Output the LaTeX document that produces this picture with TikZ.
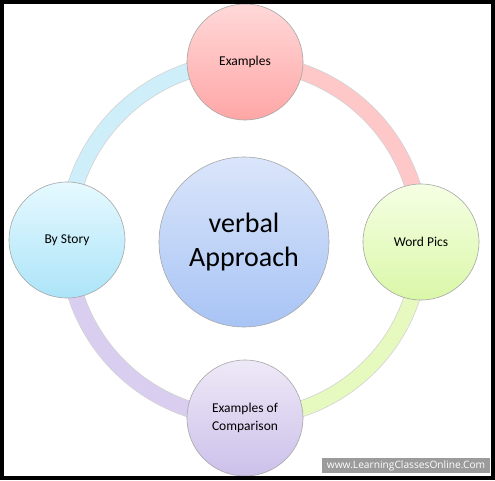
\documentclass[tikz,border=0pt]{standalone}
\usepackage{fontspec}
\setmainfont{Carlito}
\newfontfamily\wmfont{Open Sans}
\begin{document}
\begin{tikzpicture}[x=1pt,y=1pt,
  bubble/.style={circle, draw=gray!70, line width=0.6pt, minimum size=116pt, inner sep=0pt,
     align=center, font=\fontsize{13.5}{18}\selectfont, text=black},
  ringshadow/.style={draw=gray!35, line width=16.5pt},
  ringband/.style={line width=15pt},
  bordr/.style={draw=black, line width=4pt}]
\useasboundingbox (0,0) rectangle (495,480);
\fill[white] (0,0) rectangle (495,480);
% positions
\coordinate (ctop) at (245,418);
\coordinate (cright) at (421,238);
\coordinate (cbottom) at (245,62);
\coordinate (cleft) at (67,240);
% ring arcs
\foreach \a/\b in {ctop/cright, cright/cbottom, cbottom/cleft, cleft/ctop}
  \draw[ringshadow] (\a) to[bend left=45] (\b);
\draw[ringband, draw={rgb,255:red,255;green,200;blue,200}] (ctop) to[bend left=45] (cright);
\draw[ringband, draw={rgb,255:red,230;green,249;blue,190}] (cright) to[bend left=45] (cbottom);
\draw[ringband, draw={rgb,255:red,218;green,206;blue,240}] (cbottom) to[bend left=45] (cleft);
\draw[ringband, draw={rgb,255:red,206;green,238;blue,250}] (cleft) to[bend left=45] (ctop);
% nodes
\node[bubble, top color={rgb,255:red,255;green,216;blue,216}, bottom color={rgb,255:red,255;green,166;blue,166}] (examples) at (ctop) {Examples};
\node[bubble, top color={rgb,255:red,245;green,255;blue,228}, bottom color={rgb,255:red,218;green,247;blue,168}] (wordpics) at (cright) {Word Pics};
\node[bubble, top color={rgb,255:red,238;green,233;blue,247}, bottom color={rgb,255:red,204;green,192;blue,234}] (comparison) at (cbottom) {Examples of\\Comparison};
\node[bubble, top color={rgb,255:red,230;green,249;blue,255}, bottom color={rgb,255:red,172;green,228;blue,248}] (bystory) at (cleft) {By Story};
\node[bubble, minimum size=170pt, font=\fontsize{28}{34}\selectfont,
  top color={rgb,255:red,218;green,229;blue,250}, bottom color={rgb,255:red,168;green,196;blue,245}] (center) at (244,238) {verbal\\Approach};
% watermark
\node[fill={rgb,255:red,155;green,155;blue,155}, text=white, inner sep=0pt, minimum width=168pt, minimum height=15pt,
  font=\wmfont\fontsize{10.2}{12}\selectfont] (wm) at (406,14.5) {www.LearningClassesOnline.Com};
% border
\draw[bordr] (2,2.5) rectangle (493,478);
\end{tikzpicture}
\end{document}
